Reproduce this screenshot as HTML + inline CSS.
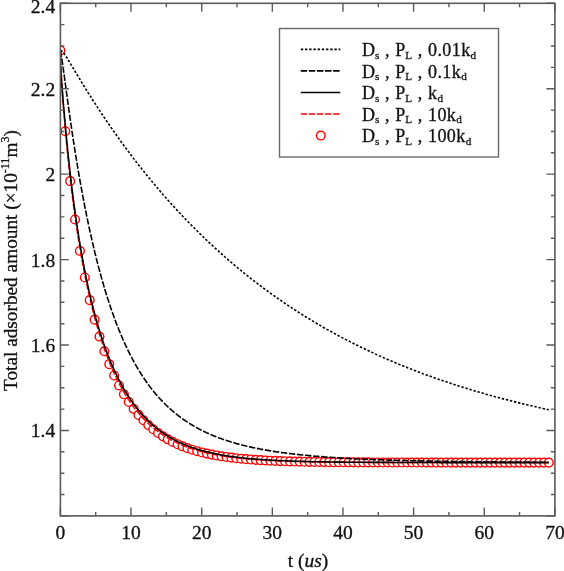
<!DOCTYPE html>
<html><head><meta charset="utf-8"><style>html,body{margin:0;padding:0;background:#fff;overflow:hidden;}svg{display:block;}</style></head>
<body><svg width="564" height="571" viewBox="0 0 564 571" font-family="'Liberation Serif', 'Times New Roman', serif">
<defs><clipPath id="c"><rect x="60.4" y="3.3" width="494.50" height="512.60"/></clipPath></defs>
<rect width="564" height="571" fill="#fff"/>
<g clip-path="url(#c)"><g fill="#fff" stroke="#f00" stroke-width="1.4"><ellipse cx="60.40" cy="50.50" rx="4.35" ry="4.35"/><ellipse cx="65.28" cy="131.21" rx="4.35" ry="4.35"/><ellipse cx="70.17" cy="181.15" rx="4.35" ry="4.35"/><ellipse cx="75.05" cy="219.45" rx="4.35" ry="4.35"/><ellipse cx="79.94" cy="250.94" rx="4.35" ry="4.35"/><ellipse cx="84.82" cy="277.49" rx="4.35" ry="4.35"/><ellipse cx="89.70" cy="300.14" rx="4.35" ry="4.35"/><ellipse cx="94.59" cy="319.65" rx="4.35" ry="4.35"/><ellipse cx="99.47" cy="336.56" rx="4.35" ry="4.35"/><ellipse cx="104.36" cy="351.29" rx="4.35" ry="4.35"/><ellipse cx="109.24" cy="364.18" rx="4.35" ry="4.35"/><ellipse cx="114.12" cy="375.49" rx="4.35" ry="4.35"/><ellipse cx="119.01" cy="385.45" rx="4.35" ry="4.35"/><ellipse cx="123.89" cy="394.24" rx="4.35" ry="4.35"/><ellipse cx="128.78" cy="401.99" rx="4.35" ry="4.35"/><ellipse cx="133.66" cy="408.85" rx="4.35" ry="4.35"/><ellipse cx="138.54" cy="414.92" rx="4.35" ry="4.35"/><ellipse cx="143.43" cy="420.30" rx="4.35" ry="4.35"/><ellipse cx="148.31" cy="425.06" rx="4.35" ry="4.35"/><ellipse cx="153.20" cy="429.29" rx="4.35" ry="4.35"/><ellipse cx="158.08" cy="433.03" rx="4.35" ry="4.35"/><ellipse cx="162.96" cy="436.36" rx="4.35" ry="4.35"/><ellipse cx="167.85" cy="439.31" rx="4.35" ry="4.35"/><ellipse cx="172.73" cy="441.92" rx="4.35" ry="4.35"/><ellipse cx="177.62" cy="444.24" rx="4.35" ry="4.35"/><ellipse cx="182.50" cy="446.31" rx="4.35" ry="4.35"/><ellipse cx="187.38" cy="448.13" rx="4.35" ry="4.35"/><ellipse cx="192.27" cy="449.76" rx="4.35" ry="4.35"/><ellipse cx="197.15" cy="451.20" rx="4.35" ry="4.35"/><ellipse cx="202.04" cy="452.48" rx="4.35" ry="4.35"/><ellipse cx="206.92" cy="453.62" rx="4.35" ry="4.35"/><ellipse cx="211.80" cy="454.62" rx="4.35" ry="4.35"/><ellipse cx="216.69" cy="455.52" rx="4.35" ry="4.35"/><ellipse cx="221.57" cy="456.31" rx="4.35" ry="4.35"/><ellipse cx="226.46" cy="457.02" rx="4.35" ry="4.35"/><ellipse cx="231.34" cy="457.65" rx="4.35" ry="4.35"/><ellipse cx="236.22" cy="458.20" rx="4.35" ry="4.35"/><ellipse cx="241.11" cy="458.69" rx="4.35" ry="4.35"/><ellipse cx="245.99" cy="459.13" rx="4.35" ry="4.35"/><ellipse cx="250.88" cy="459.52" rx="4.35" ry="4.35"/><ellipse cx="255.76" cy="459.87" rx="4.35" ry="4.35"/><ellipse cx="260.64" cy="460.17" rx="4.35" ry="4.35"/><ellipse cx="265.53" cy="460.45" rx="4.35" ry="4.35"/><ellipse cx="270.41" cy="460.69" rx="4.35" ry="4.35"/><ellipse cx="275.30" cy="460.90" rx="4.35" ry="4.35"/><ellipse cx="280.18" cy="461.09" rx="4.35" ry="4.35"/><ellipse cx="285.06" cy="461.26" rx="4.35" ry="4.35"/><ellipse cx="289.95" cy="461.41" rx="4.35" ry="4.35"/><ellipse cx="294.83" cy="461.55" rx="4.35" ry="4.35"/><ellipse cx="299.72" cy="461.66" rx="4.35" ry="4.35"/><ellipse cx="304.60" cy="461.77" rx="4.35" ry="4.35"/><ellipse cx="309.48" cy="461.86" rx="4.35" ry="4.35"/><ellipse cx="314.37" cy="461.94" rx="4.35" ry="4.35"/><ellipse cx="319.25" cy="462.02" rx="4.35" ry="4.35"/><ellipse cx="324.14" cy="462.08" rx="4.35" ry="4.35"/><ellipse cx="329.02" cy="462.14" rx="4.35" ry="4.35"/><ellipse cx="333.90" cy="462.19" rx="4.35" ry="4.35"/><ellipse cx="338.79" cy="462.24" rx="4.35" ry="4.35"/><ellipse cx="343.67" cy="462.28" rx="4.35" ry="4.35"/><ellipse cx="348.56" cy="462.32" rx="4.35" ry="4.35"/><ellipse cx="353.44" cy="462.35" rx="4.35" ry="4.35"/><ellipse cx="358.32" cy="462.38" rx="4.35" ry="4.35"/><ellipse cx="363.21" cy="462.40" rx="4.35" ry="4.35"/><ellipse cx="368.09" cy="462.42" rx="4.35" ry="4.35"/><ellipse cx="372.98" cy="462.44" rx="4.35" ry="4.35"/><ellipse cx="377.86" cy="462.46" rx="4.35" ry="4.35"/><ellipse cx="382.74" cy="462.48" rx="4.35" ry="4.35"/><ellipse cx="387.63" cy="462.49" rx="4.35" ry="4.35"/><ellipse cx="392.51" cy="462.50" rx="4.35" ry="4.35"/><ellipse cx="397.40" cy="462.51" rx="4.35" ry="4.35"/><ellipse cx="402.28" cy="462.52" rx="4.35" ry="4.35"/><ellipse cx="407.16" cy="462.53" rx="4.35" ry="4.35"/><ellipse cx="412.05" cy="462.54" rx="4.35" ry="4.35"/><ellipse cx="416.93" cy="462.55" rx="4.35" ry="4.35"/><ellipse cx="421.82" cy="462.55" rx="4.35" ry="4.35"/><ellipse cx="426.70" cy="462.56" rx="4.35" ry="4.35"/><ellipse cx="431.58" cy="462.56" rx="4.35" ry="4.35"/><ellipse cx="436.47" cy="462.57" rx="4.35" ry="4.35"/><ellipse cx="441.35" cy="462.57" rx="4.35" ry="4.35"/><ellipse cx="446.24" cy="462.57" rx="4.35" ry="4.35"/><ellipse cx="451.12" cy="462.58" rx="4.35" ry="4.35"/><ellipse cx="456.00" cy="462.58" rx="4.35" ry="4.35"/><ellipse cx="460.89" cy="462.58" rx="4.35" ry="4.35"/><ellipse cx="465.77" cy="462.58" rx="4.35" ry="4.35"/><ellipse cx="470.66" cy="462.59" rx="4.35" ry="4.35"/><ellipse cx="475.54" cy="462.59" rx="4.35" ry="4.35"/><ellipse cx="480.42" cy="462.59" rx="4.35" ry="4.35"/><ellipse cx="485.31" cy="462.59" rx="4.35" ry="4.35"/><ellipse cx="490.19" cy="462.59" rx="4.35" ry="4.35"/><ellipse cx="495.08" cy="462.59" rx="4.35" ry="4.35"/><ellipse cx="499.96" cy="462.59" rx="4.35" ry="4.35"/><ellipse cx="504.84" cy="462.59" rx="4.35" ry="4.35"/><ellipse cx="509.73" cy="462.59" rx="4.35" ry="4.35"/><ellipse cx="514.61" cy="462.60" rx="4.35" ry="4.35"/><ellipse cx="519.50" cy="462.60" rx="4.35" ry="4.35"/><ellipse cx="524.38" cy="462.60" rx="4.35" ry="4.35"/><ellipse cx="529.26" cy="462.60" rx="4.35" ry="4.35"/><ellipse cx="534.15" cy="462.60" rx="4.35" ry="4.35"/><ellipse cx="539.03" cy="462.60" rx="4.35" ry="4.35"/><ellipse cx="543.92" cy="462.60" rx="4.35" ry="4.35"/><ellipse cx="548.80" cy="462.60" rx="4.35" ry="4.35"/></g><polyline points="60.4,50.5 60.6,60.9 60.9,66.0 61.1,70.5 61.4,74.8 61.6,79.0 61.9,83.1 62.1,87.0 62.4,90.9 62.6,94.6 62.9,98.2 63.1,101.8 63.4,105.2 63.6,108.6 63.9,111.9 64.2,115.2 64.4,118.3 64.7,121.4 64.9,124.4 65.2,127.4 65.4,130.3 65.7,133.2 65.9,136.0 66.2,138.8 66.4,141.5 66.7,144.2 66.9,146.8 67.2,149.4 67.4,152.0 67.7,154.5 67.9,157.0 68.2,159.4 68.4,161.8 68.7,164.2 68.9,166.6 69.2,168.9 69.4,171.2 69.7,173.4 69.9,175.7 70.2,177.9 70.4,180.1 70.7,182.2 70.9,184.3 71.2,186.4 71.4,188.5 71.7,190.6 71.9,192.6 72.2,194.6 72.4,196.6 72.7,198.6 72.9,200.5 73.2,202.5 73.4,204.4 73.7,206.3 73.9,208.1 74.2,210.0 74.4,211.8 74.7,213.6 74.9,215.4 75.2,217.2 75.4,219.0 75.7,220.7 75.9,222.5 76.2,224.2 76.4,225.9 76.7,227.5 76.9,229.2 77.2,230.9 77.4,232.5 77.7,234.1 77.9,235.7 78.2,237.3 78.4,238.9 78.7,240.4 78.9,242.0 79.2,243.5 79.4,245.0 79.7,246.5 79.9,248.0 80.2,249.5 80.4,251.0 80.7,252.4 80.9,253.9 81.2,255.3 81.4,256.7 81.7,258.1 81.9,259.5 82.2,260.9 82.4,262.2 82.7,263.6 82.9,265.0 83.2,266.3 83.4,267.6 83.7,268.9 83.9,270.2 84.2,271.5 84.4,272.8 84.7,274.1 84.9,275.3 85.2,276.6 85.4,277.8 85.7,279.0 85.9,280.3 86.2,281.5 86.4,282.7 86.7,283.9 86.9,285.0 87.2,286.2 87.4,287.4 87.7,288.5 87.9,289.7 88.2,290.8 88.4,291.9 88.7,293.0 88.9,294.1 89.2,295.2 89.4,296.3 89.7,297.4 89.9,298.5 90.2,299.6 90.4,300.6 90.7,301.7 90.9,302.7 91.2,303.7 91.4,304.8 91.7,305.8 91.9,306.8 92.2,307.8 92.4,308.8 92.7,309.8 92.9,310.8 93.2,311.7 93.4,312.7 93.7,313.7 93.9,314.6 94.2,315.6 94.4,316.5 94.7,317.4 94.9,318.4 95.2,319.3 95.4,320.2 95.7,321.1 95.9,322.0 96.2,322.9 96.4,323.8 96.7,324.7 96.9,325.5 97.2,326.4 97.4,327.3 97.7,328.1 97.9,329.0 98.2,329.8 98.4,330.6 98.7,331.5 98.9,332.3 99.2,333.1 99.4,333.9 99.7,334.7 99.9,335.5 100.0,335.9 100.5,337.4 101.0,339.0 101.5,340.5 102.0,342.1 102.5,343.6 103.0,345.0 103.5,346.5 104.0,347.9 104.5,349.3 105.0,350.7 105.5,352.1 106.0,353.5 106.5,354.8 107.0,356.1 107.5,357.5 108.0,358.7 108.5,360.0 109.0,361.3 109.5,362.5 110.0,363.7 110.5,364.9 111.0,366.1 111.5,367.3 112.0,368.5 112.5,369.6 113.0,370.8 113.5,371.9 114.0,373.0 114.5,374.1 115.0,375.1 115.5,376.2 116.0,377.2 116.5,378.3 117.0,379.3 117.5,380.3 118.0,381.3 118.5,382.3 119.0,383.3 119.5,384.2 120.0,385.2 120.5,386.1 121.0,387.0 121.5,387.9 122.0,388.8 122.5,389.7 123.0,390.6 123.5,391.5 124.0,392.3 124.5,393.2 125.0,394.0 125.5,394.8 126.0,395.6 126.5,396.4 127.0,397.2 127.5,398.0 128.0,398.8 128.5,399.6 129.0,400.3 129.5,401.1 130.0,401.8 130.5,402.5 131.0,403.2 131.5,404.0 132.0,404.7 132.5,405.4 133.0,406.0 133.5,406.7 134.0,407.4 134.5,408.0 135.0,408.7 135.5,409.3 136.0,410.0 136.5,410.6 137.0,411.2 137.5,411.8 138.0,412.4 138.5,413.0 139.0,413.6 139.5,414.2 140.0,414.8 140.5,415.4 141.0,415.9 141.5,416.5 142.0,417.0 142.5,417.6 143.0,418.1 143.5,418.6 144.0,419.2 144.5,419.7 145.0,420.2 145.5,420.7 146.0,421.2 146.5,421.7 147.0,422.2 147.5,422.7 148.0,423.1 148.5,423.6 149.0,424.1 149.5,424.5 150.0,425.0 150.5,425.4 151.0,425.9 151.5,426.3 152.0,426.7 152.5,427.2 153.0,427.6 153.5,428.0 154.0,428.4 154.5,428.8 155.0,429.2 155.5,429.6 156.0,430.0 156.5,430.4 157.0,430.8 157.5,431.2 158.0,431.5 158.5,431.9 159.0,432.3 159.5,432.6 160.0,433.0 160.5,433.3 161.0,433.7 161.5,434.0 162.0,434.4 162.5,434.7 163.0,435.0 163.5,435.4 164.0,435.7 164.5,436.0 165.0,436.3 165.5,436.6 166.0,436.9 166.5,437.2 167.0,437.5 167.5,437.8 168.0,438.1 168.5,438.4 169.0,438.7 169.5,439.0 170.0,439.3 170.5,439.5 171.0,439.8 171.5,440.1 172.0,440.4 172.5,440.6 173.0,440.9 173.5,441.1 174.0,441.4 174.5,441.6 175.0,441.9 175.5,442.1 176.0,442.4 176.5,442.6 177.0,442.9 177.5,443.1 178.0,443.3 178.5,443.6 179.0,443.8 179.5,444.0 180.0,444.2 180.5,444.4 181.0,444.7 181.5,444.9 182.0,445.1 182.5,445.3 183.0,445.5 183.5,445.7 184.0,445.9 184.5,446.1 185.0,446.3 185.5,446.5 186.0,446.7 186.5,446.9 187.0,447.0 187.5,447.2 188.0,447.4 188.5,447.6 189.0,447.8 189.5,447.9 190.0,448.1 190.5,448.3 191.0,448.5 191.5,448.6 192.0,448.8 192.5,449.0 193.0,449.1 193.5,449.3 194.0,449.4 194.5,449.6 195.0,449.8 195.5,449.9 196.0,450.1 196.5,450.2 197.0,450.3 197.5,450.5 198.0,450.6 198.5,450.8 199.0,450.9 199.5,451.1 200.0,451.2 201.0,451.5 202.0,451.7 203.0,452.0 204.0,452.2 205.0,452.5 206.0,452.7 207.0,452.9 208.0,453.2 209.0,453.4 210.0,453.6 211.0,453.8 212.0,454.0 213.0,454.2 214.0,454.4 215.0,454.6 216.0,454.8 217.0,455.0 218.0,455.2 219.0,455.3 220.0,455.5 221.0,455.7 222.0,455.8 223.0,456.0 224.0,456.2 225.0,456.3 226.0,456.5 227.0,456.6 228.0,456.7 229.0,456.9 230.0,457.0 231.0,457.2 232.0,457.3 233.0,457.4 234.0,457.5 235.0,457.6 236.0,457.8 237.0,457.9 238.0,458.0 239.0,458.1 240.0,458.2 241.0,458.3 242.0,458.4 243.0,458.5 244.0,458.6 245.0,458.7 246.0,458.8 247.0,458.9 248.0,459.0 249.0,459.1 250.0,459.1 251.0,459.2 252.0,459.3 253.0,459.4 254.0,459.4 255.0,459.5 256.0,459.6 257.0,459.7 258.0,459.7 259.0,459.8 260.0,459.9 261.0,459.9 262.0,460.0 263.0,460.1 264.0,460.1 265.0,460.2 266.0,460.2 267.0,460.3 268.0,460.3 269.0,460.4 270.0,460.4 271.0,460.5 272.0,460.5 273.0,460.6 274.0,460.6 275.0,460.7 276.0,460.7 277.0,460.8 278.0,460.8 279.0,460.9 280.0,460.9 281.0,460.9 282.0,461.0 283.0,461.0 284.0,461.1 285.0,461.1 286.0,461.1 287.0,461.2 288.0,461.2 289.0,461.2 290.0,461.3 291.0,461.3 292.0,461.3 293.0,461.4 294.0,461.4 295.0,461.4 296.0,461.4 297.0,461.5 298.0,461.5 299.0,461.5 300.0,461.5 303.0,461.6 306.0,461.7 309.0,461.7 312.0,461.8 315.0,461.9 318.0,461.9 321.0,462.0 324.0,462.0 327.0,462.0 330.0,462.1 333.0,462.1 336.0,462.2 339.0,462.2 342.0,462.2 345.0,462.2 348.0,462.3 351.0,462.3 354.0,462.3 357.0,462.3 360.0,462.3 363.0,462.4 366.0,462.4 369.0,462.4 372.0,462.4 375.0,462.4 378.0,462.4 381.0,462.4 384.0,462.5 387.0,462.5 390.0,462.5 393.0,462.5 396.0,462.5 399.0,462.5 402.0,462.5 405.0,462.5 408.0,462.5 411.0,462.5 414.0,462.5 417.0,462.5 420.0,462.5 423.0,462.5 426.0,462.5 429.0,462.6 432.0,462.6 435.0,462.6 438.0,462.6 441.0,462.6 444.0,462.6 447.0,462.6 450.0,462.6 453.0,462.6 456.0,462.6 459.0,462.6 462.0,462.6 465.0,462.6 468.0,462.6 471.0,462.6 474.0,462.6 477.0,462.6 480.0,462.6 483.0,462.6 486.0,462.6 489.0,462.6 492.0,462.6 495.0,462.6 498.0,462.6 501.0,462.6 504.0,462.6 507.0,462.6 510.0,462.6 513.0,462.6 516.0,462.6 519.0,462.6 522.0,462.6 525.0,462.6 528.0,462.6 531.0,462.6 534.0,462.6 537.0,462.6 540.0,462.6 543.0,462.6 546.0,462.6 548.8,462.6" fill="none" stroke="#f00" stroke-width="1.5" stroke-dasharray="6.4 1.7"/><polyline points="60.4,50.5 60.6,68.0 60.9,72.5 61.1,76.0 61.4,79.3 61.6,82.5 61.9,85.7 62.1,88.9 62.4,92.0 62.6,95.1 62.9,98.2 63.1,101.2 63.4,104.2 63.6,107.2 63.9,110.1 64.2,113.0 64.4,115.8 64.7,118.7 64.9,121.4 65.2,124.2 65.4,126.9 65.7,129.6 65.9,132.3 66.2,134.9 66.4,137.5 66.7,140.1 66.9,142.6 67.2,145.1 67.4,147.6 67.7,150.1 67.9,152.5 68.2,154.9 68.4,157.3 68.7,159.6 68.9,161.9 69.2,164.2 69.4,166.5 69.7,168.8 69.9,171.0 70.2,173.2 70.4,175.4 70.7,177.5 70.9,179.7 71.2,181.8 71.4,183.9 71.7,186.0 71.9,188.0 72.2,190.0 72.4,192.0 72.7,194.0 72.9,196.0 73.2,197.9 73.4,199.9 73.7,201.8 73.9,203.7 74.2,205.5 74.4,207.4 74.7,209.2 74.9,211.0 75.2,212.8 75.4,214.6 75.7,216.4 75.9,218.1 76.2,219.9 76.4,221.6 76.7,223.3 76.9,224.9 77.2,226.6 77.4,228.3 77.7,229.9 77.9,231.5 78.2,233.1 78.4,234.7 78.7,236.3 78.9,237.9 79.2,239.4 79.4,240.9 79.7,242.5 79.9,244.0 80.2,245.5 80.4,246.9 80.7,248.4 80.9,249.9 81.2,251.3 81.4,252.7 81.7,254.1 81.9,255.5 82.2,256.9 82.4,258.3 82.7,259.7 82.9,261.0 83.2,262.4 83.4,263.7 83.7,265.0 83.9,266.3 84.2,267.6 84.4,268.9 84.7,270.2 84.9,271.5 85.2,272.7 85.4,274.0 85.7,275.2 85.9,276.4 86.2,277.7 86.4,278.9 86.7,280.1 86.9,281.2 87.2,282.4 87.4,283.6 87.7,284.7 87.9,285.9 88.2,287.0 88.4,288.2 88.7,289.3 88.9,290.4 89.2,291.5 89.4,292.6 89.7,293.7 89.9,294.8 90.2,295.8 90.4,296.9 90.7,298.0 90.9,299.0 91.2,300.0 91.4,301.1 91.7,302.1 91.9,303.1 92.2,304.1 92.4,305.1 92.7,306.1 92.9,307.1 93.2,308.1 93.4,309.0 93.7,310.0 93.9,311.0 94.2,311.9 94.4,312.8 94.7,313.8 94.9,314.7 95.2,315.6 95.4,316.5 95.7,317.5 95.9,318.4 96.2,319.3 96.4,320.1 96.7,321.0 96.9,321.9 97.2,322.8 97.4,323.6 97.7,324.5 97.9,325.3 98.2,326.2 98.4,327.0 98.7,327.9 98.9,328.7 99.2,329.5 99.4,330.3 99.7,331.1 99.9,331.9 100.0,332.3 100.5,333.9 101.0,335.4 101.5,337.0 102.0,338.5 102.5,340.0 103.0,341.5 103.5,342.9 104.0,344.4 104.5,345.8 105.0,347.2 105.5,348.6 106.0,350.0 106.5,351.3 107.0,352.7 107.5,354.0 108.0,355.3 108.5,356.5 109.0,357.8 109.5,359.1 110.0,360.3 110.5,361.5 111.0,362.7 111.5,363.9 112.0,365.1 112.5,366.2 113.0,367.4 113.5,368.5 114.0,369.6 114.5,370.7 115.0,371.8 115.5,372.9 116.0,373.9 116.5,375.0 117.0,376.0 117.5,377.0 118.0,378.0 118.5,379.0 119.0,380.0 119.5,381.0 120.0,381.9 120.5,382.9 121.0,383.8 121.5,384.7 122.0,385.6 122.5,386.5 123.0,387.4 123.5,388.3 124.0,389.2 124.5,390.0 125.0,390.9 125.5,391.7 126.0,392.5 126.5,393.4 127.0,394.2 127.5,395.0 128.0,395.8 128.5,396.5 129.0,397.3 129.5,398.1 130.0,398.8 130.5,399.6 131.0,400.3 131.5,401.0 132.0,401.7 132.5,402.4 133.0,403.1 133.5,403.8 134.0,404.5 134.5,405.2 135.0,405.8 135.5,406.5 136.0,407.2 136.5,407.8 137.0,408.4 137.5,409.1 138.0,409.7 138.5,410.3 139.0,410.9 139.5,411.5 140.0,412.1 140.5,412.7 141.0,413.3 141.5,413.8 142.0,414.4 142.5,414.9 143.0,415.5 143.5,416.0 144.0,416.6 144.5,417.1 145.0,417.6 145.5,418.2 146.0,418.7 146.5,419.2 147.0,419.7 147.5,420.2 148.0,420.7 148.5,421.2 149.0,421.6 149.5,422.1 150.0,422.6 150.5,423.0 151.0,423.5 151.5,423.9 152.0,424.4 152.5,424.8 153.0,425.3 153.5,425.7 154.0,426.1 154.5,426.5 155.0,427.0 155.5,427.4 156.0,427.8 156.5,428.2 157.0,428.6 157.5,429.0 158.0,429.4 158.5,429.7 159.0,430.1 159.5,430.5 160.0,430.9 160.5,431.2 161.0,431.6 161.5,431.9 162.0,432.3 162.5,432.7 163.0,433.0 163.5,433.3 164.0,433.7 164.5,434.0 165.0,434.3 165.5,434.7 166.0,435.0 166.5,435.3 167.0,435.6 167.5,435.9 168.0,436.2 168.5,436.5 169.0,436.8 169.5,437.1 170.0,437.4 170.5,437.7 171.0,438.0 171.5,438.3 172.0,438.6 172.5,438.8 173.0,439.1 173.5,439.4 174.0,439.7 174.5,439.9 175.0,440.2 175.5,440.4 176.0,440.7 176.5,441.0 177.0,441.2 177.5,441.4 178.0,441.7 178.5,441.9 179.0,442.2 179.5,442.4 180.0,442.6 180.5,442.9 181.0,443.1 181.5,443.3 182.0,443.5 182.5,443.8 183.0,444.0 183.5,444.2 184.0,444.4 184.5,444.6 185.0,444.8 185.5,445.0 186.0,445.2 186.5,445.4 187.0,445.6 187.5,445.8 188.0,446.0 188.5,446.2 189.0,446.4 189.5,446.6 190.0,446.8 190.5,446.9 191.0,447.1 191.5,447.3 192.0,447.5 192.5,447.7 193.0,447.8 193.5,448.0 194.0,448.2 194.5,448.3 195.0,448.5 195.5,448.7 196.0,448.8 196.5,449.0 197.0,449.1 197.5,449.3 198.0,449.4 198.5,449.6 199.0,449.7 199.5,449.9 200.0,450.0 201.0,450.3 202.0,450.6 203.0,450.9 204.0,451.2 205.0,451.4 206.0,451.7 207.0,451.9 208.0,452.2 209.0,452.4 210.0,452.6 211.0,452.9 212.0,453.1 213.0,453.3 214.0,453.5 215.0,453.7 216.0,453.9 217.0,454.1 218.0,454.3 219.0,454.5 220.0,454.7 221.0,454.9 222.0,455.1 223.0,455.2 224.0,455.4 225.0,455.6 226.0,455.7 227.0,455.9 228.0,456.0 229.0,456.2 230.0,456.3 231.0,456.5 232.0,456.6 233.0,456.8 234.0,456.9 235.0,457.0 236.0,457.1 237.0,457.3 238.0,457.4 239.0,457.5 240.0,457.6 241.0,457.7 242.0,457.9 243.0,458.0 244.0,458.1 245.0,458.2 246.0,458.3 247.0,458.4 248.0,458.5 249.0,458.6 250.0,458.7 251.0,458.7 252.0,458.8 253.0,458.9 254.0,459.0 255.0,459.1 256.0,459.2 257.0,459.2 258.0,459.3 259.0,459.4 260.0,459.5 261.0,459.5 262.0,459.6 263.0,459.7 264.0,459.7 265.0,459.8 266.0,459.9 267.0,459.9 268.0,460.0 269.0,460.1 270.0,460.1 271.0,460.2 272.0,460.2 273.0,460.3 274.0,460.3 275.0,460.4 276.0,460.4 277.0,460.5 278.0,460.5 279.0,460.6 280.0,460.6 281.0,460.7 282.0,460.7 283.0,460.8 284.0,460.8 285.0,460.8 286.0,460.9 287.0,460.9 288.0,461.0 289.0,461.0 290.0,461.0 291.0,461.1 292.0,461.1 293.0,461.1 294.0,461.2 295.0,461.2 296.0,461.2 297.0,461.3 298.0,461.3 299.0,461.3 300.0,461.4 303.0,461.4 306.0,461.5 309.0,461.6 312.0,461.7 315.0,461.7 318.0,461.8 321.0,461.8 324.0,461.9 327.0,461.9 330.0,462.0 333.0,462.0 336.0,462.1 339.0,462.1 342.0,462.1 345.0,462.2 348.0,462.2 351.0,462.2 354.0,462.2 357.0,462.3 360.0,462.3 363.0,462.3 366.0,462.3 369.0,462.3 372.0,462.4 375.0,462.4 378.0,462.4 381.0,462.4 384.0,462.4 387.0,462.4 390.0,462.4 393.0,462.5 396.0,462.5 399.0,462.5 402.0,462.5 405.0,462.5 408.0,462.5 411.0,462.5 414.0,462.5 417.0,462.5 420.0,462.5 423.0,462.5 426.0,462.5 429.0,462.5 432.0,462.5 435.0,462.5 438.0,462.5 441.0,462.6 444.0,462.6 447.0,462.6 450.0,462.6 453.0,462.6 456.0,462.6 459.0,462.6 462.0,462.6 465.0,462.6 468.0,462.6 471.0,462.6 474.0,462.6 477.0,462.6 480.0,462.6 483.0,462.6 486.0,462.6 489.0,462.6 492.0,462.6 495.0,462.6 498.0,462.6 501.0,462.6 504.0,462.6 507.0,462.6 510.0,462.6 513.0,462.6 516.0,462.6 519.0,462.6 522.0,462.6 525.0,462.6 528.0,462.6 531.0,462.6 534.0,462.6 537.0,462.6 540.0,462.6 543.0,462.6 546.0,462.6 548.8,462.6" fill="none" stroke="#000" stroke-width="1.6"/><polyline points="60.4,50.5 60.6,51.7 60.9,53.0 61.1,54.4 61.4,55.8 61.6,57.4 61.9,59.0 62.1,60.6 62.4,62.3 62.6,64.1 62.9,65.8 63.1,67.6 63.4,69.5 63.6,71.3 63.9,73.1 64.2,75.0 64.4,76.9 64.7,78.7 64.9,80.6 65.2,82.5 65.4,84.3 65.7,86.2 65.9,88.1 66.2,89.9 66.4,91.8 66.7,93.7 66.9,95.5 67.2,97.4 67.4,99.2 67.7,101.0 67.9,102.9 68.2,104.7 68.4,106.5 68.7,108.3 68.9,110.1 69.2,111.9 69.4,113.6 69.7,115.4 69.9,117.1 70.2,118.9 70.4,120.6 70.7,122.4 70.9,124.1 71.2,125.8 71.4,127.5 71.7,129.2 71.9,130.9 72.2,132.6 72.4,134.2 72.7,135.9 72.9,137.5 73.2,139.2 73.4,140.8 73.7,142.4 73.9,144.0 74.2,145.6 74.4,147.2 74.7,148.8 74.9,150.4 75.2,152.0 75.4,153.5 75.7,155.1 75.9,156.6 76.2,158.2 76.4,159.7 76.7,161.2 76.9,162.7 77.2,164.2 77.4,165.7 77.7,167.2 77.9,168.7 78.2,170.2 78.4,171.6 78.7,173.1 78.9,174.6 79.2,176.0 79.4,177.4 79.7,178.8 79.9,180.3 80.2,181.7 80.4,183.1 80.7,184.5 80.9,185.9 81.2,187.2 81.4,188.6 81.7,190.0 81.9,191.3 82.2,192.7 82.4,194.0 82.7,195.4 82.9,196.7 83.2,198.0 83.4,199.3 83.7,200.6 83.9,201.9 84.2,203.2 84.4,204.5 84.7,205.8 84.9,207.1 85.2,208.3 85.4,209.6 85.7,210.8 85.9,212.1 86.2,213.3 86.4,214.5 86.7,215.8 86.9,217.0 87.2,218.2 87.4,219.4 87.7,220.6 87.9,221.8 88.2,223.0 88.4,224.2 88.7,225.3 88.9,226.5 89.2,227.6 89.4,228.8 89.7,230.0 89.9,231.1 90.2,232.2 90.4,233.4 90.7,234.5 90.9,235.6 91.2,236.7 91.4,237.8 91.7,238.9 91.9,240.0 92.2,241.1 92.4,242.2 92.7,243.3 92.9,244.3 93.2,245.4 93.4,246.5 93.7,247.5 93.9,248.6 94.2,249.6 94.4,250.6 94.7,251.7 94.9,252.7 95.2,253.7 95.4,254.7 95.7,255.7 95.9,256.7 96.2,257.7 96.4,258.7 96.7,259.7 96.9,260.7 97.2,261.7 97.4,262.7 97.7,263.6 97.9,264.6 98.2,265.5 98.4,266.5 98.7,267.4 98.9,268.4 99.2,269.3 99.4,270.3 99.7,271.2 99.9,272.1 100.0,272.5 100.5,274.3 101.0,276.1 101.5,277.9 102.0,279.7 102.5,281.4 103.0,283.1 103.5,284.9 104.0,286.6 104.5,288.2 105.0,289.9 105.5,291.5 106.0,293.2 106.5,294.8 107.0,296.4 107.5,297.9 108.0,299.5 108.5,301.0 109.0,302.6 109.5,304.1 110.0,305.6 110.5,307.1 111.0,308.5 111.5,310.0 112.0,311.4 112.5,312.8 113.0,314.2 113.5,315.6 114.0,317.0 114.5,318.4 115.0,319.7 115.5,321.0 116.0,322.4 116.5,323.7 117.0,325.0 117.5,326.2 118.0,327.5 118.5,328.8 119.0,330.0 119.5,331.2 120.0,332.4 120.5,333.6 121.0,334.8 121.5,336.0 122.0,337.2 122.5,338.3 123.0,339.5 123.5,340.6 124.0,341.7 124.5,342.8 125.0,343.9 125.5,345.0 126.0,346.1 126.5,347.1 127.0,348.2 127.5,349.2 128.0,350.3 128.5,351.3 129.0,352.3 129.5,353.3 130.0,354.3 130.5,355.3 131.0,356.2 131.5,357.2 132.0,358.2 132.5,359.1 133.0,360.0 133.5,361.0 134.0,361.9 134.5,362.8 135.0,363.7 135.5,364.6 136.0,365.4 136.5,366.3 137.0,367.2 137.5,368.0 138.0,368.9 138.5,369.7 139.0,370.5 139.5,371.3 140.0,372.1 140.5,372.9 141.0,373.7 141.5,374.5 142.0,375.3 142.5,376.1 143.0,376.8 143.5,377.6 144.0,378.3 144.5,379.1 145.0,379.8 145.5,380.5 146.0,381.3 146.5,382.0 147.0,382.7 147.5,383.4 148.0,384.1 148.5,384.8 149.0,385.4 149.5,386.1 150.0,386.8 150.5,387.4 151.0,388.1 151.5,388.7 152.0,389.4 152.5,390.0 153.0,390.6 153.5,391.2 154.0,391.9 154.5,392.5 155.0,393.1 155.5,393.7 156.0,394.3 156.5,394.8 157.0,395.4 157.5,396.0 158.0,396.6 158.5,397.1 159.0,397.7 159.5,398.2 160.0,398.8 160.5,399.3 161.0,399.9 161.5,400.4 162.0,400.9 162.5,401.5 163.0,402.0 163.5,402.5 164.0,403.0 164.5,403.5 165.0,404.0 165.5,404.5 166.0,405.0 166.5,405.5 167.0,405.9 167.5,406.4 168.0,406.9 168.5,407.3 169.0,407.8 169.5,408.3 170.0,408.7 170.5,409.2 171.0,409.6 171.5,410.0 172.0,410.5 172.5,410.9 173.0,411.3 173.5,411.8 174.0,412.2 174.5,412.6 175.0,413.0 175.5,413.4 176.0,413.8 176.5,414.2 177.0,414.6 177.5,415.0 178.0,415.4 178.5,415.8 179.0,416.2 179.5,416.5 180.0,416.9 180.5,417.3 181.0,417.7 181.5,418.0 182.0,418.4 182.5,418.7 183.0,419.1 183.5,419.5 184.0,419.8 184.5,420.2 185.0,420.5 185.5,420.8 186.0,421.2 186.5,421.5 187.0,421.8 187.5,422.2 188.0,422.5 188.5,422.8 189.0,423.1 189.5,423.4 190.0,423.8 190.5,424.1 191.0,424.4 191.5,424.7 192.0,425.0 192.5,425.3 193.0,425.6 193.5,425.9 194.0,426.2 194.5,426.4 195.0,426.7 195.5,427.0 196.0,427.3 196.5,427.6 197.0,427.8 197.5,428.1 198.0,428.4 198.5,428.7 199.0,428.9 199.5,429.2 200.0,429.4 201.0,430.0 202.0,430.5 203.0,431.0 204.0,431.5 205.0,431.9 206.0,432.4 207.0,432.9 208.0,433.3 209.0,433.8 210.0,434.2 211.0,434.7 212.0,435.1 213.0,435.5 214.0,435.9 215.0,436.3 216.0,436.7 217.0,437.1 218.0,437.5 219.0,437.9 220.0,438.2 221.0,438.6 222.0,439.0 223.0,439.3 224.0,439.7 225.0,440.0 226.0,440.3 227.0,440.7 228.0,441.0 229.0,441.3 230.0,441.6 231.0,441.9 232.0,442.2 233.0,442.5 234.0,442.8 235.0,443.1 236.0,443.4 237.0,443.7 238.0,443.9 239.0,444.2 240.0,444.5 241.0,444.7 242.0,445.0 243.0,445.3 244.0,445.5 245.0,445.7 246.0,446.0 247.0,446.2 248.0,446.5 249.0,446.7 250.0,446.9 251.0,447.1 252.0,447.4 253.0,447.6 254.0,447.8 255.0,448.0 256.0,448.2 257.0,448.4 258.0,448.6 259.0,448.8 260.0,449.0 261.0,449.2 262.0,449.4 263.0,449.6 264.0,449.7 265.0,449.9 266.0,450.1 267.0,450.3 268.0,450.4 269.0,450.6 270.0,450.8 271.0,450.9 272.0,451.1 273.0,451.3 274.0,451.4 275.0,451.6 276.0,451.7 277.0,451.9 278.0,452.0 279.0,452.1 280.0,452.3 281.0,452.4 282.0,452.6 283.0,452.7 284.0,452.8 285.0,453.0 286.0,453.1 287.0,453.2 288.0,453.4 289.0,453.5 290.0,453.6 291.0,453.7 292.0,453.8 293.0,454.0 294.0,454.1 295.0,454.2 296.0,454.3 297.0,454.4 298.0,454.5 299.0,454.6 300.0,454.7 303.0,455.0 306.0,455.3 309.0,455.6 312.0,455.9 315.0,456.2 318.0,456.4 321.0,456.6 324.0,456.9 327.0,457.1 330.0,457.3 333.0,457.5 336.0,457.7 339.0,457.9 342.0,458.1 345.0,458.2 348.0,458.4 351.0,458.6 354.0,458.7 357.0,458.9 360.0,459.0 363.0,459.1 366.0,459.3 369.0,459.4 372.0,459.5 375.0,459.6 378.0,459.7 381.0,459.8 384.0,459.9 387.0,460.0 390.0,460.1 393.0,460.2 396.0,460.3 399.0,460.4 402.0,460.5 405.0,460.5 408.0,460.6 411.0,460.7 414.0,460.8 417.0,460.8 420.0,460.9 423.0,461.0 426.0,461.0 429.0,461.1 432.0,461.1 435.0,461.2 438.0,461.2 441.0,461.3 444.0,461.3 447.0,461.4 450.0,461.4 453.0,461.5 456.0,461.5 459.0,461.5 462.0,461.6 465.0,461.6 468.0,461.7 471.0,461.7 474.0,461.7 477.0,461.7 480.0,461.8 483.0,461.8 486.0,461.8 489.0,461.9 492.0,461.9 495.0,461.9 498.0,461.9 501.0,462.0 504.0,462.0 507.0,462.0 510.0,462.0 513.0,462.1 516.0,462.1 519.0,462.1 522.0,462.1 525.0,462.1 528.0,462.1 531.0,462.2 534.0,462.2 537.0,462.2 540.0,462.2 543.0,462.2 546.0,462.2 548.8,462.2" fill="none" stroke="#000" stroke-width="1.6" stroke-dasharray="6.4 1.7"/><polyline points="60.4,50.5 60.6,50.6 60.9,50.7 61.1,50.8 61.4,50.9 61.6,51.1 61.9,51.3 62.1,51.5 62.4,51.7 62.6,52.0 62.9,52.3 63.1,52.5 63.4,52.8 63.6,53.1 63.9,53.4 64.2,53.8 64.4,54.1 64.7,54.5 64.9,54.8 65.2,55.2 65.4,55.5 65.7,55.9 65.9,56.3 66.2,56.7 66.4,57.0 66.7,57.4 66.9,57.8 67.2,58.2 67.4,58.6 67.7,59.0 67.9,59.4 68.2,59.8 68.4,60.3 68.7,60.7 68.9,61.1 69.2,61.5 69.4,61.9 69.7,62.3 69.9,62.7 70.2,63.1 70.4,63.6 70.7,64.0 70.9,64.4 71.2,64.8 71.4,65.2 71.7,65.7 71.9,66.1 72.2,66.5 72.4,66.9 72.7,67.3 72.9,67.8 73.2,68.2 73.4,68.6 73.7,69.0 73.9,69.4 74.2,69.9 74.4,70.3 74.7,70.7 74.9,71.1 75.2,71.5 75.4,72.0 75.7,72.4 75.9,72.8 76.2,73.2 76.4,73.6 76.7,74.0 76.9,74.5 77.2,74.9 77.4,75.3 77.7,75.7 77.9,76.1 78.2,76.5 78.4,77.0 78.7,77.4 78.9,77.8 79.2,78.2 79.4,78.6 79.7,79.0 79.9,79.4 80.2,79.8 80.4,80.3 80.7,80.7 80.9,81.1 81.2,81.5 81.4,81.9 81.7,82.3 81.9,82.7 82.2,83.1 82.4,83.5 82.7,83.9 82.9,84.3 83.2,84.7 83.4,85.2 83.7,85.6 83.9,86.0 84.2,86.4 84.4,86.8 84.7,87.2 84.9,87.6 85.2,88.0 85.4,88.4 85.7,88.8 85.9,89.2 86.2,89.6 86.4,90.0 86.7,90.4 86.9,90.8 87.2,91.2 87.4,91.6 87.7,92.0 87.9,92.4 88.2,92.8 88.4,93.2 88.7,93.6 88.9,94.0 89.2,94.4 89.4,94.8 89.7,95.2 89.9,95.6 90.2,96.0 90.4,96.4 90.7,96.7 90.9,97.1 91.2,97.5 91.4,97.9 91.7,98.3 91.9,98.7 92.2,99.1 92.4,99.5 92.7,99.9 92.9,100.3 93.2,100.7 93.4,101.0 93.7,101.4 93.9,101.8 94.2,102.2 94.4,102.6 94.7,103.0 94.9,103.4 95.2,103.8 95.4,104.1 95.7,104.5 95.9,104.9 96.2,105.3 96.4,105.7 96.7,106.1 96.9,106.5 97.2,106.8 97.4,107.2 97.7,107.6 97.9,108.0 98.2,108.4 98.4,108.7 98.7,109.1 98.9,109.5 99.2,109.9 99.4,110.3 99.7,110.6 99.9,111.0 100.0,111.2 100.5,111.9 101.0,112.7 101.5,113.4 102.0,114.2 102.5,114.9 103.0,115.7 103.5,116.4 104.0,117.2 104.5,117.9 105.0,118.6 105.5,119.4 106.0,120.1 106.5,120.9 107.0,121.6 107.5,122.3 108.0,123.1 108.5,123.8 109.0,124.5 109.5,125.2 110.0,126.0 110.5,126.7 111.0,127.4 111.5,128.1 112.0,128.8 112.5,129.6 113.0,130.3 113.5,131.0 114.0,131.7 114.5,132.4 115.0,133.1 115.5,133.8 116.0,134.5 116.5,135.2 117.0,135.9 117.5,136.6 118.0,137.3 118.5,138.0 119.0,138.7 119.5,139.4 120.0,140.1 120.5,140.8 121.0,141.5 121.5,142.2 122.0,142.9 122.5,143.6 123.0,144.2 123.5,144.9 124.0,145.6 124.5,146.3 125.0,147.0 125.5,147.6 126.0,148.3 126.5,149.0 127.0,149.7 127.5,150.3 128.0,151.0 128.5,151.7 129.0,152.3 129.5,153.0 130.0,153.7 130.5,154.3 131.0,155.0 131.5,155.7 132.0,156.3 132.5,157.0 133.0,157.6 133.5,158.3 134.0,158.9 134.5,159.6 135.0,160.2 135.5,160.9 136.0,161.5 136.5,162.2 137.0,162.8 137.5,163.5 138.0,164.1 138.5,164.8 139.0,165.4 139.5,166.0 140.0,166.7 140.5,167.3 141.0,167.9 141.5,168.6 142.0,169.2 142.5,169.8 143.0,170.4 143.5,171.1 144.0,171.7 144.5,172.3 145.0,172.9 145.5,173.6 146.0,174.2 146.5,174.8 147.0,175.4 147.5,176.0 148.0,176.7 148.5,177.3 149.0,177.9 149.5,178.5 150.0,179.1 150.5,179.7 151.0,180.3 151.5,180.9 152.0,181.5 152.5,182.1 153.0,182.7 153.5,183.3 154.0,183.9 154.5,184.5 155.0,185.1 155.5,185.7 156.0,186.3 156.5,186.9 157.0,187.5 157.5,188.1 158.0,188.7 158.5,189.2 159.0,189.8 159.5,190.4 160.0,191.0 160.5,191.6 161.0,192.2 161.5,192.7 162.0,193.3 162.5,193.9 163.0,194.5 163.5,195.0 164.0,195.6 164.5,196.2 165.0,196.8 165.5,197.3 166.0,197.9 166.5,198.5 167.0,199.0 167.5,199.6 168.0,200.2 168.5,200.7 169.0,201.3 169.5,201.8 170.0,202.4 170.5,203.0 171.0,203.5 171.5,204.1 172.0,204.6 172.5,205.2 173.0,205.7 173.5,206.3 174.0,206.8 174.5,207.4 175.0,207.9 175.5,208.5 176.0,209.0 176.5,209.5 177.0,210.1 177.5,210.6 178.0,211.2 178.5,211.7 179.0,212.2 179.5,212.8 180.0,213.3 180.5,213.8 181.0,214.4 181.5,214.9 182.0,215.4 182.5,216.0 183.0,216.5 183.5,217.0 184.0,217.5 184.5,218.1 185.0,218.6 185.5,219.1 186.0,219.6 186.5,220.2 187.0,220.7 187.5,221.2 188.0,221.7 188.5,222.2 189.0,222.7 189.5,223.3 190.0,223.8 190.5,224.3 191.0,224.8 191.5,225.3 192.0,225.8 192.5,226.3 193.0,226.8 193.5,227.3 194.0,227.8 194.5,228.3 195.0,228.8 195.5,229.3 196.0,229.8 196.5,230.3 197.0,230.8 197.5,231.3 198.0,231.8 198.5,232.3 199.0,232.8 199.5,233.3 200.0,233.8 201.0,234.7 202.0,235.7 203.0,236.7 204.0,237.7 205.0,238.6 206.0,239.6 207.0,240.5 208.0,241.5 209.0,242.4 210.0,243.4 211.0,244.3 212.0,245.2 213.0,246.1 214.0,247.1 215.0,248.0 216.0,248.9 217.0,249.8 218.0,250.7 219.0,251.6 220.0,252.5 221.0,253.4 222.0,254.3 223.0,255.2 224.0,256.1 225.0,257.0 226.0,257.8 227.0,258.7 228.0,259.6 229.0,260.5 230.0,261.3 231.0,262.2 232.0,263.0 233.0,263.9 234.0,264.7 235.0,265.6 236.0,266.4 237.0,267.2 238.0,268.1 239.0,268.9 240.0,269.7 241.0,270.5 242.0,271.4 243.0,272.2 244.0,273.0 245.0,273.8 246.0,274.6 247.0,275.4 248.0,276.2 249.0,277.0 250.0,277.8 251.0,278.6 252.0,279.4 253.0,280.1 254.0,280.9 255.0,281.7 256.0,282.4 257.0,283.2 258.0,284.0 259.0,284.7 260.0,285.5 261.0,286.2 262.0,287.0 263.0,287.7 264.0,288.5 265.0,289.2 266.0,290.0 267.0,290.7 268.0,291.4 269.0,292.2 270.0,292.9 271.0,293.6 272.0,294.3 273.0,295.0 274.0,295.7 275.0,296.5 276.0,297.2 277.0,297.9 278.0,298.6 279.0,299.3 280.0,300.0 281.0,300.6 282.0,301.3 283.0,302.0 284.0,302.7 285.0,303.4 286.0,304.0 287.0,304.7 288.0,305.4 289.0,306.1 290.0,306.7 291.0,307.4 292.0,308.0 293.0,308.7 294.0,309.3 295.0,310.0 296.0,310.6 297.0,311.3 298.0,311.9 299.0,312.6 300.0,313.2 303.0,315.1 306.0,317.0 309.0,318.8 312.0,320.6 315.0,322.4 318.0,324.2 321.0,325.9 324.0,327.7 327.0,329.4 330.0,331.0 333.0,332.7 336.0,334.3 339.0,336.0 342.0,337.6 345.0,339.1 348.0,340.7 351.0,342.2 354.0,343.7 357.0,345.2 360.0,346.7 363.0,348.2 366.0,349.6 369.0,351.0 372.0,352.4 375.0,353.8 378.0,355.2 381.0,356.5 384.0,357.9 387.0,359.2 390.0,360.5 393.0,361.7 396.0,363.0 399.0,364.3 402.0,365.5 405.0,366.7 408.0,367.9 411.0,369.1 414.0,370.2 417.0,371.4 420.0,372.5 423.0,373.7 426.0,374.8 429.0,375.9 432.0,376.9 435.0,378.0 438.0,379.1 441.0,380.1 444.0,381.1 447.0,382.1 450.0,383.1 453.0,384.1 456.0,385.1 459.0,386.1 462.0,387.0 465.0,387.9 468.0,388.9 471.0,389.8 474.0,390.7 477.0,391.6 480.0,392.4 483.0,393.3 486.0,394.2 489.0,395.0 492.0,395.8 495.0,396.7 498.0,397.5 501.0,398.3 504.0,399.1 507.0,399.8 510.0,400.6 513.0,401.4 516.0,402.1 519.0,402.9 522.0,403.6 525.0,404.3 528.0,405.0 531.0,405.7 534.0,406.4 537.0,407.1 540.0,407.8 543.0,408.5 546.0,409.1 548.8,409.7" fill="none" stroke="#000" stroke-width="1.6" stroke-dasharray="2.4 1.8"/></g>
<path d="M60.40 515.90v-8.5M60.40 3.30v8.5M95.72 515.90v-4M95.72 3.30v4M131.04 515.90v-8.5M131.04 3.30v8.5M166.36 515.90v-4M166.36 3.30v4M201.69 515.90v-8.5M201.69 3.30v8.5M237.01 515.90v-4M237.01 3.30v4M272.33 515.90v-8.5M272.33 3.30v8.5M307.65 515.90v-4M307.65 3.30v4M342.97 515.90v-8.5M342.97 3.30v8.5M378.29 515.90v-4M378.29 3.30v4M413.61 515.90v-8.5M413.61 3.30v8.5M448.94 515.90v-4M448.94 3.30v4M484.26 515.90v-8.5M484.26 3.30v8.5M519.58 515.90v-4M519.58 3.30v4M554.90 515.90v-8.5M554.90 3.30v8.5M60.40 515.90h8.5M554.90 515.90h-8.5M60.40 494.54h4M554.90 494.54h-4M60.40 473.18h4M554.90 473.18h-4M60.40 451.82h4M554.90 451.82h-4M60.40 430.47h8.5M554.90 430.47h-8.5M60.40 409.11h4M554.90 409.11h-4M60.40 387.75h4M554.90 387.75h-4M60.40 366.39h4M554.90 366.39h-4M60.40 345.03h8.5M554.90 345.03h-8.5M60.40 323.68h4M554.90 323.68h-4M60.40 302.32h4M554.90 302.32h-4M60.40 280.96h4M554.90 280.96h-4M60.40 259.60h8.5M554.90 259.60h-8.5M60.40 238.24h4M554.90 238.24h-4M60.40 216.88h4M554.90 216.88h-4M60.40 195.53h4M554.90 195.53h-4M60.40 174.17h8.5M554.90 174.17h-8.5M60.40 152.81h4M554.90 152.81h-4M60.40 131.45h4M554.90 131.45h-4M60.40 110.09h4M554.90 110.09h-4M60.40 88.73h8.5M554.90 88.73h-8.5M60.40 67.37h4M554.90 67.37h-4M60.40 46.02h4M554.90 46.02h-4M60.40 24.66h4M554.90 24.66h-4M60.40 3.30h8.5M554.90 3.30h-8.5" stroke="#5a5a5a" stroke-width="1.4" fill="none"/><rect x="60.4" y="3.3" width="494.50" height="512.60" fill="none" stroke="#5a5a5a" stroke-width="1.6"/><rect x="279.5" y="28.5" width="219.00" height="128.50" fill="#fff" stroke="#686868" stroke-width="1.4"/><line x1="300.8" y1="49.4" x2="340.3" y2="49.4" stroke="#000" stroke-width="1.6" stroke-dasharray="2.4 1.8"/><line x1="300.8" y1="70.9" x2="340.3" y2="70.9" stroke="#000" stroke-width="1.6" stroke-dasharray="6.4 1.7"/><line x1="300.8" y1="92.5" x2="340.3" y2="92.5" stroke="#000" stroke-width="1.6"/><line x1="300.8" y1="114.0" x2="340.3" y2="114.0" stroke="#f00" stroke-width="1.5" stroke-dasharray="6.4 1.7"/><circle cx="320.8" cy="135.6" r="4.3" fill="none" stroke="#f00" stroke-width="1.4"/><g font-size="18" fill="#111" stroke="#111" stroke-width="0.3" word-spacing="1.2"><text x="362" y="56.20">D<tspan font-size="11.2" dy="2.5">s</tspan><tspan dy="-2.5"> , P</tspan><tspan font-size="11.2" dy="2.5">L</tspan><tspan dy="-2.5"> , </tspan><tspan letter-spacing="0.4">0.01k</tspan><tspan font-size="11.2" dy="2.5">d</tspan></text><text x="362" y="77.70">D<tspan font-size="11.2" dy="2.5">s</tspan><tspan dy="-2.5"> , P</tspan><tspan font-size="11.2" dy="2.5">L</tspan><tspan dy="-2.5"> , </tspan><tspan letter-spacing="0.4">0.1k</tspan><tspan font-size="11.2" dy="2.5">d</tspan></text><text x="362" y="99.30">D<tspan font-size="11.2" dy="2.5">s</tspan><tspan dy="-2.5"> , P</tspan><tspan font-size="11.2" dy="2.5">L</tspan><tspan dy="-2.5"> , </tspan><tspan letter-spacing="0.4">k</tspan><tspan font-size="11.2" dy="2.5">d</tspan></text><text x="362" y="120.80">D<tspan font-size="11.2" dy="2.5">s</tspan><tspan dy="-2.5"> , P</tspan><tspan font-size="11.2" dy="2.5">L</tspan><tspan dy="-2.5"> , </tspan><tspan letter-spacing="0.4">10k</tspan><tspan font-size="11.2" dy="2.5">d</tspan></text><text x="362" y="142.40">D<tspan font-size="11.2" dy="2.5">s</tspan><tspan dy="-2.5"> , P</tspan><tspan font-size="11.2" dy="2.5">L</tspan><tspan dy="-2.5"> , </tspan><tspan letter-spacing="0.4">100k</tspan><tspan font-size="11.2" dy="2.5">d</tspan></text></g><g font-size="19.5" fill="#111" stroke="#111" stroke-width="0.3"><text x="60.40" y="538.6" text-anchor="middle">0</text><text x="131.04" y="538.6" text-anchor="middle">10</text><text x="201.69" y="538.6" text-anchor="middle">20</text><text x="272.33" y="538.6" text-anchor="middle">30</text><text x="342.97" y="538.6" text-anchor="middle">40</text><text x="413.61" y="538.6" text-anchor="middle">50</text><text x="484.26" y="538.6" text-anchor="middle">60</text><text x="554.90" y="538.6" text-anchor="middle">70</text><text x="55.2" y="12.70" text-anchor="end">2.4</text><text x="55.2" y="95.63" text-anchor="end">2.2</text><text x="55.2" y="181.07" text-anchor="end">2</text><text x="55.2" y="266.50" text-anchor="end">1.8</text><text x="55.2" y="351.93" text-anchor="end">1.6</text><text x="55.2" y="437.37" text-anchor="end">1.4</text></g><text x="308" y="566.8" text-anchor="middle" font-size="19.5" fill="#111" stroke="#111" stroke-width="0.3">t (<tspan font-style="italic">us</tspan>)</text><text transform="translate(17.3,260.6) rotate(-90)" text-anchor="middle" font-size="19.3" fill="#111" stroke="#111" stroke-width="0.3">Total adsorbed amount (×10<tspan font-size="12" dy="-8">-11</tspan><tspan dy="8">m</tspan><tspan font-size="12" dy="-8">3</tspan><tspan dy="8">)</tspan></text>
</svg></body></html>
